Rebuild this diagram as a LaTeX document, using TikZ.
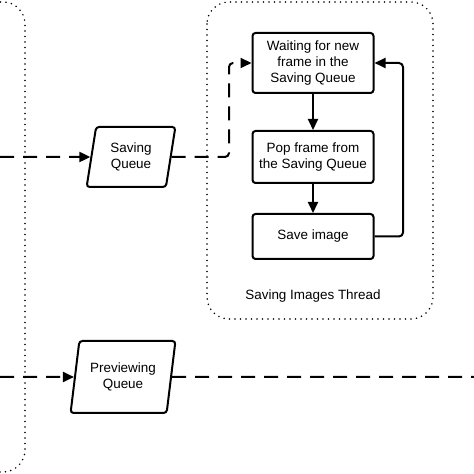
\documentclass[tikz,border=0pt]{standalone}
\usepackage{fontspec}
\setmainfont{Liberation Sans}
\usetikzlibrary{shapes.geometric, positioning, arrows.meta}

\begin{document}
\begin{tikzpicture}[x=1bp, y=1bp,
    font=\fontsize{13.5}{16.5}\selectfont,
    stepbox/.style={draw, line width=2bp, rounded corners=3bp, align=center,
        minimum width=121bp, inner sep=2bp},
    queue/.style={draw, trapezium, trapezium stretches=true, line width=2bp,
        rounded corners=3bp, align=center, inner sep=0bp},
    flow/.style={line width=2bp, -{Triangle[length=11bp, width=10bp]}},
    dashflow/.style={flow, dash pattern=on 14bp off 9bp, rounded corners=4bp},
    dashline/.style={line width=2bp, dash pattern=on 14bp off 9bp},
    thread/.style={line width=1.7bp, dash pattern=on 0bp off 5.5bp, line cap=round,
        rounded corners=22bp}]
    \clip (0,0) rectangle (474,474);

    % Thread containers
    \draw[thread] (-40,472) rectangle (25,2);
    \draw[thread] (207,472) rectangle (433,155);
    \node (threadlabel) at (313,178) {Saving Images Thread};

    % Saving thread steps
    \node[stepbox, minimum height=60bp] (wait) at (313,411)
        {Waiting for new\\frame in the\\Saving Queue};
    \node[stepbox, minimum height=52bp] (pop) at (313,317)
        {Pop frame from\\the Saving Queue};
    \node[stepbox, minimum height=45bp] (save) at (313,237.5) {Save image};

    \draw[flow] (wait) -- (pop);
    \draw[flow] (pop) -- (save);
    \coordinate (loop) at (403,237.5);
    \draw[flow, rounded corners=4bp] (save.east) -- (loop) |- (wait.east);

    % Queues
    \node[queue, trapezium left angle=79, trapezium right angle=101,
        minimum width=89bp, minimum height=60bp] (sq) at (131,317) {Saving\\Queue};
    \node[queue, trapezium left angle=77, trapezium right angle=103,
        minimum width=105bp, minimum height=72bp] (pq) at (123,97) {Previewing\\Queue};

    % Queue connectors
    \coordinate (sqin) at (0,317);
    \coordinate (sqbend) at (229,317);
    \coordinate (pqin) at (0,97);
    \coordinate (pqout) at (474,97);
    \draw[dashflow] (sqin) -- (sq.west);
    \draw[dashflow] (sq.east) -- (sqbend) |- (wait.west);
    \draw[dashflow] (pqin) -- (pq.west);
    \draw[dashline] (pq.east) -- (pqout);
\end{tikzpicture}
\end{document}
